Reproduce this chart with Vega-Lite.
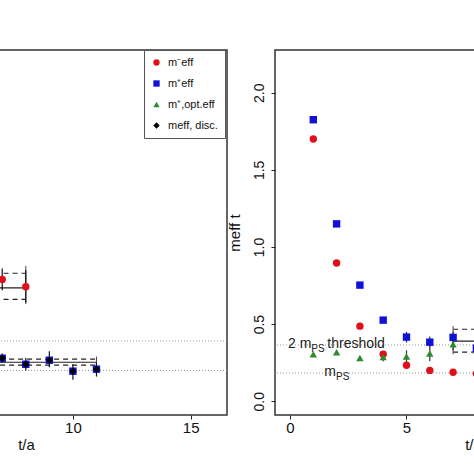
{
  "$schema": "https://vega.github.io/schema/vega-lite/v6.json",
  "background": "white",
  "padding": {"left": -10, "top": 49, "right": -40, "bottom": 0},
  "datasets": {
    "points": [
      {"panel": "left", "series": "m⁻eff", "t": 7, "v": 0.79, "lo": 0.72, "hi": 0.86},
      {"panel": "left", "series": "m⁻eff", "t": 8, "v": 0.742, "lo": 0.64, "hi": 0.85},
      {"panel": "left", "series": "m⁺eff", "t": 7, "v": 0.279},
      {"panel": "left", "series": "m⁺eff", "t": 8, "v": 0.24},
      {"panel": "left", "series": "m⁺eff", "t": 9, "v": 0.266},
      {"panel": "left", "series": "m⁺eff", "t": 10, "v": 0.195},
      {"panel": "left", "series": "m⁺eff", "t": 11, "v": 0.208},
      {"panel": "left", "series": "meff, disc.", "t": 7, "v": 0.279, "lo": 0.25, "hi": 0.31},
      {"panel": "left", "series": "meff, disc.", "t": 8, "v": 0.24, "lo": 0.2, "hi": 0.28},
      {"panel": "left", "series": "meff, disc.", "t": 9, "v": 0.266, "lo": 0.22, "hi": 0.325},
      {"panel": "left", "series": "meff, disc.", "t": 10, "v": 0.195, "lo": 0.14, "hi": 0.24},
      {"panel": "left", "series": "meff, disc.", "t": 11, "v": 0.208, "lo": 0.16, "hi": 0.25},
      {"panel": "right", "series": "m⁻eff", "t": 1, "v": 1.7},
      {"panel": "right", "series": "m⁻eff", "t": 2, "v": 0.896},
      {"panel": "right", "series": "m⁻eff", "t": 3, "v": 0.487},
      {"panel": "right", "series": "m⁻eff", "t": 4, "v": 0.305},
      {"panel": "right", "series": "m⁻eff", "t": 5, "v": 0.234},
      {"panel": "right", "series": "m⁻eff", "t": 6, "v": 0.2},
      {"panel": "right", "series": "m⁻eff", "t": 7, "v": 0.188},
      {"panel": "right", "series": "m⁻eff", "t": 8, "v": 0.18},
      {"panel": "right", "series": "m⁺eff", "t": 1, "v": 1.825},
      {"panel": "right", "series": "m⁺eff", "t": 2, "v": 1.15},
      {"panel": "right", "series": "m⁺eff", "t": 3, "v": 0.753},
      {"panel": "right", "series": "m⁺eff", "t": 4, "v": 0.526, "lo": 0.51, "hi": 0.54},
      {"panel": "right", "series": "m⁺eff", "t": 5, "v": 0.416, "lo": 0.38, "hi": 0.45},
      {"panel": "right", "series": "m⁺eff", "t": 6, "v": 0.383, "lo": 0.35, "hi": 0.42},
      {"panel": "right", "series": "m⁺eff", "t": 7, "v": 0.414, "lo": 0.38, "hi": 0.45},
      {"panel": "right", "series": "m⁺eff", "t": 8, "v": 0.344, "lo": 0.32, "hi": 0.37},
      {"panel": "right", "series": "m⁺,opt.eff", "t": 1, "v": 0.305},
      {"panel": "right", "series": "m⁺,opt.eff", "t": 2, "v": 0.318},
      {"panel": "right", "series": "m⁺,opt.eff", "t": 3, "v": 0.28},
      {"panel": "right", "series": "m⁺,opt.eff", "t": 4, "v": 0.286, "lo": 0.26, "hi": 0.31},
      {"panel": "right", "series": "m⁺,opt.eff", "t": 5, "v": 0.29, "lo": 0.25, "hi": 0.33},
      {"panel": "right", "series": "m⁺,opt.eff", "t": 6, "v": 0.31, "lo": 0.26, "hi": 0.36},
      {"panel": "right", "series": "m⁺,opt.eff", "t": 7, "v": 0.37, "lo": 0.33, "hi": 0.41},
      {"panel": "right", "series": "m⁺,opt.eff", "t": 8, "v": 0.33, "lo": 0.3, "hi": 0.36}
    ],
    "fits": [
      {"panel": "left", "t0": 4, "t1": 8, "c": 0.735, "lo": 0.66, "hi": 0.83, "blo": 0.63, "bhi": 0.877},
      {"panel": "left", "t0": 5, "t1": 11, "c": 0.253, "lo": 0.234, "hi": 0.273, "blo": 0.18, "bhi": 0.29},
      {"panel": "right", "t0": 7, "t1": 12, "c": 0.39, "lo": 0.318, "hi": 0.467, "blo": 0.305, "bhi": 0.487}
    ],
    "refs": [
      {"panel": "left", "v": 0.391},
      {"panel": "left", "v": 0.2},
      {"panel": "right", "v": 0.365},
      {"panel": "right", "v": 0.183}
    ],
    "labels": [
      {"panel": "right", "t": 0.914, "v": 0.365, "main": "2 m", "sub": "PS", "rest": "threshold"},
      {"panel": "right", "t": 1.974, "v": 0.183, "main": "m", "sub": "PS", "rest": ""}
    ]
  },
  "hconcat": [
    {
      "width": 235,
      "height": 365,
      "layer": [
        {
          "data": {"name": "refs"},
          "transform": [{"filter": "datum.panel === 'left'"}],
          "mark": {"type": "rule", "color": "#999999", "strokeWidth": 1, "strokeDash": [1, 2]},
          "encoding": {
            "y": {"field": "v", "type": "quantitative", "scale": {"domain": [-0.089, 2.277], "nice": false, "zero": false}, "axis": null}
          }
        },
        {
          "data": {"name": "fits"},
          "transform": [{"filter": "datum.panel === 'left'"}],
          "layer": [
            {
              "mark": {"type": "rule", "color": "#222222", "strokeWidth": 1.2, "clip": true},
              "encoding": {
                "x": {"field": "t0", "type": "quantitative", "scale": {"domain": [6.566, 16.54], "nice": false, "zero": false}},
                "x2": {"field": "t1"},
                "y": {"field": "c", "type": "quantitative", "scale": {"domain": [-0.089, 2.277], "nice": false, "zero": false}, "axis": null}
              }
            },
            {
              "mark": {"type": "rule", "color": "#222222", "strokeWidth": 1.2, "strokeDash": [5, 4], "clip": true},
              "encoding": {
                "x": {"field": "t0", "type": "quantitative", "scale": {"domain": [6.566, 16.54], "nice": false, "zero": false}},
                "x2": {"field": "t1"},
                "y": {"field": "lo", "type": "quantitative", "scale": {"domain": [-0.089, 2.277], "nice": false, "zero": false}, "axis": null}
              }
            },
            {
              "mark": {"type": "rule", "color": "#222222", "strokeWidth": 1.2, "strokeDash": [5, 4], "clip": true},
              "encoding": {
                "x": {"field": "t0", "type": "quantitative", "scale": {"domain": [6.566, 16.54], "nice": false, "zero": false}},
                "x2": {"field": "t1"},
                "y": {"field": "hi", "type": "quantitative", "scale": {"domain": [-0.089, 2.277], "nice": false, "zero": false}, "axis": null}
              }
            },
            {
              "mark": {"type": "rule", "color": "#444444", "strokeWidth": 1, "clip": true},
              "encoding": {
                "x": {"field": "t1", "type": "quantitative", "scale": {"domain": [6.566, 16.54], "nice": false, "zero": false}},
                "y": {"field": "blo", "type": "quantitative", "scale": {"domain": [-0.089, 2.277], "nice": false, "zero": false}, "axis": null},
                "y2": {"field": "bhi"}
              }
            }
          ]
        },
        {
          "data": {"name": "points"},
          "transform": [{"filter": "datum.panel === 'left' && isValid(datum.lo)"}],
          "mark": {"type": "rule", "color": "#111111", "strokeWidth": 1.2, "clip": true},
          "encoding": {
            "x": {"field": "t", "type": "quantitative", "scale": {"domain": [6.566, 16.54], "nice": false, "zero": false}},
            "y": {"field": "lo", "type": "quantitative", "scale": {"domain": [-0.089, 2.277], "nice": false, "zero": false}, "axis": null},
            "y2": {"field": "hi"}
          }
        },
        {
          "data": {"name": "points"},
          "transform": [{"filter": "datum.panel === 'left'"}],
          "mark": {"type": "point", "filled": true, "opacity": 1, "size": 55, "clip": true},
          "encoding": {
            "x": {
              "field": "t", "type": "quantitative",
              "scale": {"domain": [6.566, 16.54], "nice": false, "zero": false},
              "axis": {"values": [10, 15], "title": "t/a", "titleX": 34, "titleY": 29, "titleBaseline": "middle", "titleAlign": "center"}
            },
            "y": {"field": "v", "type": "quantitative", "scale": {"domain": [-0.089, 2.277], "nice": false, "zero": false}, "axis": null},
            "color": {
              "field": "series", "type": "nominal", "title": null,
              "scale": {"domain": ["m⁻eff", "m⁺eff", "m⁺,opt.eff", "meff, disc."], "range": ["#e0101a", "#1010d8", "#2e8b2e", "#000000"]}
            },
            "shape": {
              "field": "series", "type": "nominal", "title": null,
              "scale": {"domain": ["m⁻eff", "m⁺eff", "m⁺,opt.eff", "meff, disc."], "range": ["circle", "square", "triangle-up", "diamond"]}
            }
          }
        }
      ]
    },
    {
      "width": 240,
      "height": 365,
      "layer": [
        {
          "data": {"name": "refs"},
          "transform": [{"filter": "datum.panel === 'right'"}],
          "mark": {"type": "rule", "color": "#999999", "strokeWidth": 1, "strokeDash": [1, 2]},
          "encoding": {
            "y": {"field": "v", "type": "quantitative", "scale": {"domain": [-0.089, 2.277], "nice": false, "zero": false}}
          }
        },
        {
          "data": {"name": "fits"},
          "transform": [{"filter": "datum.panel === 'right'"}],
          "layer": [
            {
              "mark": {"type": "rule", "color": "#222222", "strokeWidth": 1.2, "clip": true},
              "encoding": {
                "x": {"field": "t0", "type": "quantitative", "scale": {"domain": [-0.644, 9.657], "nice": false, "zero": false}},
                "x2": {"field": "t1"},
                "y": {"field": "c", "type": "quantitative", "scale": {"domain": [-0.089, 2.277], "nice": false, "zero": false}}
              }
            },
            {
              "mark": {"type": "rule", "color": "#222222", "strokeWidth": 1.2, "strokeDash": [5, 4], "clip": true},
              "encoding": {
                "x": {"field": "t0", "type": "quantitative", "scale": {"domain": [-0.644, 9.657], "nice": false, "zero": false}},
                "x2": {"field": "t1"},
                "y": {"field": "lo", "type": "quantitative", "scale": {"domain": [-0.089, 2.277], "nice": false, "zero": false}}
              }
            },
            {
              "mark": {"type": "rule", "color": "#222222", "strokeWidth": 1.2, "strokeDash": [5, 4], "clip": true},
              "encoding": {
                "x": {"field": "t0", "type": "quantitative", "scale": {"domain": [-0.644, 9.657], "nice": false, "zero": false}},
                "x2": {"field": "t1"},
                "y": {"field": "hi", "type": "quantitative", "scale": {"domain": [-0.089, 2.277], "nice": false, "zero": false}}
              }
            },
            {
              "mark": {"type": "rule", "color": "#444444", "strokeWidth": 1, "clip": true},
              "encoding": {
                "x": {"field": "t0", "type": "quantitative", "scale": {"domain": [-0.644, 9.657], "nice": false, "zero": false}},
                "y": {"field": "blo", "type": "quantitative", "scale": {"domain": [-0.089, 2.277], "nice": false, "zero": false}},
                "y2": {"field": "bhi"}
              }
            }
          ]
        },
        {
          "data": {"name": "points"},
          "transform": [{"filter": "datum.panel === 'right' && isValid(datum.lo)"}],
          "mark": {"type": "rule", "color": "#333333", "strokeWidth": 1.2, "clip": true},
          "encoding": {
            "x": {"field": "t", "type": "quantitative", "scale": {"domain": [-0.644, 9.657], "nice": false, "zero": false}},
            "y": {"field": "lo", "type": "quantitative", "scale": {"domain": [-0.089, 2.277], "nice": false, "zero": false}},
            "y2": {"field": "hi"}
          }
        },
        {
          "data": {"name": "points"},
          "transform": [{"filter": "datum.panel === 'right'"}],
          "mark": {"type": "point", "filled": true, "opacity": 1, "size": 55, "clip": true},
          "encoding": {
            "x": {
              "field": "t", "type": "quantitative",
              "scale": {"domain": [-0.644, 9.657], "nice": false, "zero": false},
              "axis": {"values": [0, 5], "title": "t/a", "titleX": 198, "titleY": 29, "titleBaseline": "middle", "titleAlign": "center"}
            },
            "y": {
              "field": "v", "type": "quantitative",
              "scale": {"domain": [-0.089, 2.277], "nice": false, "zero": false},
              "axis": {"values": [0, 0.5, 1, 1.5, 2], "format": ".1f", "title": "meff t", "labelAngle": 270, "labelAlign": "center", "labelBaseline": "bottom", "labelPadding": 5, "titlePadding": 10}
            },
            "color": {
              "field": "series", "type": "nominal", "title": null,
              "scale": {"domain": ["m⁻eff", "m⁺eff", "m⁺,opt.eff", "meff, disc."], "range": ["#e0101a", "#1010d8", "#2e8b2e", "#000000"]}
            },
            "shape": {
              "field": "series", "type": "nominal", "title": null,
              "scale": {"domain": ["m⁻eff", "m⁺eff", "m⁺,opt.eff", "meff, disc."], "range": ["circle", "square", "triangle-up", "diamond"]}
            }
          }
        },
        {
          "data": {"name": "labels"},
          "layer": [
            {
              "mark": {"type": "text", "align": "right", "baseline": "alphabetic", "dy": 3, "fontSize": 14, "color": "#222222"},
              "encoding": {
                "x": {"field": "t", "type": "quantitative", "scale": {"domain": [-0.644, 9.657], "nice": false, "zero": false}},
                "y": {"field": "v", "type": "quantitative", "scale": {"domain": [-0.089, 2.277], "nice": false, "zero": false}},
                "text": {"field": "main"}
              }
            },
            {
              "mark": {"type": "text", "align": "left", "baseline": "alphabetic", "dy": 7, "fontSize": 10, "color": "#222222"},
              "encoding": {
                "x": {"field": "t", "type": "quantitative", "scale": {"domain": [-0.644, 9.657], "nice": false, "zero": false}},
                "y": {"field": "v", "type": "quantitative", "scale": {"domain": [-0.089, 2.277], "nice": false, "zero": false}},
                "text": {"field": "sub"}
              }
            },
            {
              "mark": {"type": "text", "align": "left", "baseline": "alphabetic", "dx": 16, "dy": 3, "fontSize": 14, "color": "#222222"},
              "encoding": {
                "x": {"field": "t", "type": "quantitative", "scale": {"domain": [-0.644, 9.657], "nice": false, "zero": false}},
                "y": {"field": "v", "type": "quantitative", "scale": {"domain": [-0.089, 2.277], "nice": false, "zero": false}},
                "text": {"field": "rest"}
              }
            }
          ]
        }
      ]
    }
  ],
  "spacing": 48,
  "bounds": "flush",
  "resolve": {"scale": {"color": "shared", "shape": "shared"}, "legend": {"color": "shared", "shape": "shared"}},
  "config": {
    "font": "Liberation Sans",
    "view": {"stroke": "#333333", "strokeWidth": 1.5},
    "axis": {
      "domain": false,
      "grid": false,
      "ticks": true,
      "tickColor": "#222222",
      "tickSize": 4,
      "labelColor": "#111111",
      "labelFont": "Liberation Sans",
      "labelFontSize": 15,
      "labelPadding": 1,
      "titleFont": "Liberation Sans",
      "titleFontSize": 15,
      "titleFontWeight": "normal",
      "titleColor": "#111111"
    },
    "axisY": {"labelFontSize": 14, "labelPadding": 0},
    "legend": {
      "orient": "none",
      "legendX": 152,
      "legendY": 0,
      "padding": 7,
      "rowPadding": 9,
      "symbolSize": 40,
      "labelFontSize": 11,
      "labelFont": "Liberation Sans",
      "labelColor": "#111111",
      "labelOffset": 6,
      "strokeColor": "#555555",
      "fillColor": "white"
    }
  }
}
